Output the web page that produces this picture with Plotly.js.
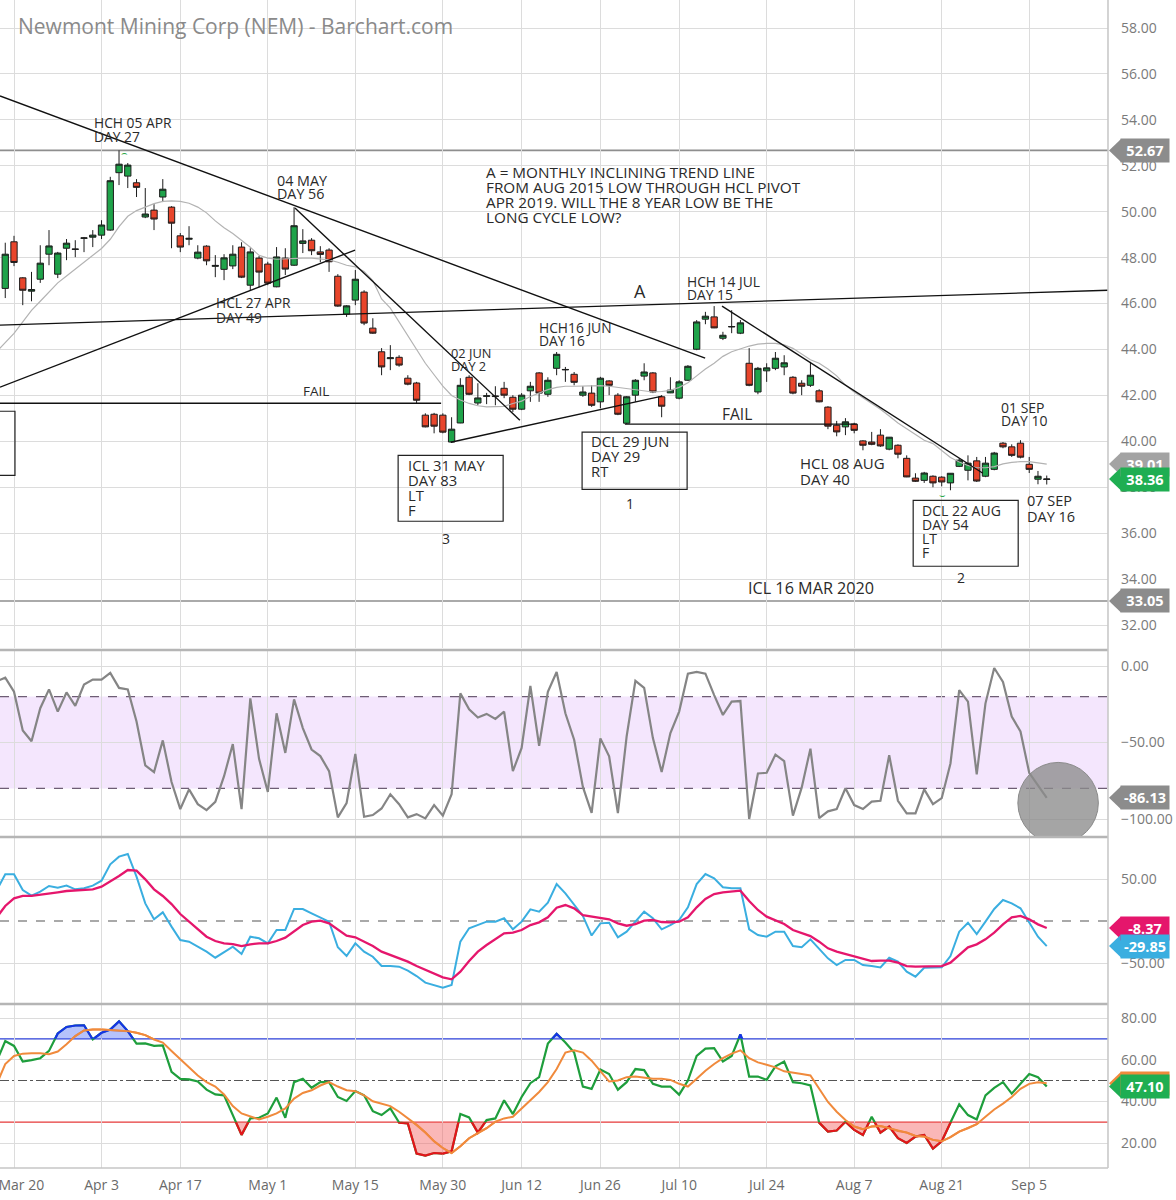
<!DOCTYPE html>
<html><head><meta charset="utf-8">
<script src="https://cdn.plot.ly/plotly-3.0.1.min.js"></script>
<style>html,body{margin:0;padding:0;background:#fff;}#chart{width:1176px;height:1200px;}</style>
</head><body><div id="chart"></div>
<script>
// ---------------- DATA ----------------
// first date (Mar 16) is only visible at the left edge through the indicator lines; its candle is off-screen
const dates = ['2023-03-16','2023-03-17','2023-03-20','2023-03-21','2023-03-22','2023-03-23','2023-03-24','2023-03-27','2023-03-28','2023-03-29','2023-03-30',
'2023-03-31','2023-04-03','2023-04-04','2023-04-05','2023-04-06','2023-04-10','2023-04-11','2023-04-12','2023-04-13','2023-04-14',
'2023-04-17','2023-04-18','2023-04-19','2023-04-20','2023-04-21','2023-04-24','2023-04-25','2023-04-26','2023-04-27','2023-04-28',
'2023-05-01','2023-05-02','2023-05-03','2023-05-04','2023-05-05','2023-05-08','2023-05-09','2023-05-10','2023-05-11','2023-05-12',
'2023-05-15','2023-05-16','2023-05-17','2023-05-18','2023-05-19','2023-05-22','2023-05-23','2023-05-24','2023-05-25','2023-05-26',
'2023-05-30','2023-05-31','2023-06-01','2023-06-02','2023-06-05','2023-06-06','2023-06-07','2023-06-08','2023-06-09','2023-06-12',
'2023-06-13','2023-06-14','2023-06-15','2023-06-16','2023-06-20','2023-06-21','2023-06-22','2023-06-23','2023-06-26','2023-06-27',
'2023-06-28','2023-06-29','2023-06-30','2023-07-03','2023-07-05','2023-07-06','2023-07-07','2023-07-10','2023-07-11','2023-07-12',
'2023-07-13','2023-07-14','2023-07-17','2023-07-18','2023-07-19','2023-07-20','2023-07-21','2023-07-24','2023-07-25','2023-07-26',
'2023-07-27','2023-07-28','2023-07-31','2023-08-01','2023-08-02','2023-08-03','2023-08-04','2023-08-07','2023-08-08','2023-08-09',
'2023-08-10','2023-08-11','2023-08-14','2023-08-15','2023-08-16','2023-08-17','2023-08-18','2023-08-21','2023-08-22','2023-08-23',
'2023-08-24','2023-08-25','2023-08-28','2023-08-29','2023-08-30','2023-08-31','2023-09-01','2023-09-05','2023-09-06','2023-09-07'];

const open = [null,46.66,48.69,47.12,46.54,47.06,48.15,47.28,48.41,48.38,48.84,
48.89,48.98,49.20,51.70,51.55,51.26,49.77,50.07,50.64,50.20,
48.95,48.80,47.98,48.50,47.62,47.49,47.64,48.46,46.80,47.98,
47.72,46.73,47.98,47.67,48.62,48.76,48.25,48.33,47.19,45.54,
46.15,46.50,44.93,43.90,43.60,43.66,42.75,42.54,41.14,41.18,
41.14,39.97,40.80,42.79,41.67,41.96,41.95,42.31,41.92,41.40,
42.20,42.98,42.05,43.18,43.11,42.92,42.01,42.10,41.72,42.63,
42.01,40.79,42.01,42.84,42.98,41.94,42.11,41.88,42.66,44.01,
45.32,45.42,44.49,44.98,44.71,43.40,42.15,43.07,43.18,43.24,
42.79,42.53,42.44,42.20,41.49,40.70,40.63,40.75,40.02,39.97,
40.27,39.66,39.83,39.26,38.40,38.30,38.48,38.44,38.19,38.91,
38.74,39.15,38.48,38.78,39.92,39.76,39.92,39.00,38.35,38.34];

const high = [null,48.65,48.95,47.15,47.38,48.54,49.20,48.25,48.81,48.76,48.90,
49.20,49.63,51.52,52.67,52.12,51.42,51.03,50.33,51.42,50.24,
49.07,49.37,48.54,48.54,48.11,48.15,48.54,48.67,48.41,48.07,
47.82,48.46,48.41,50.20,49.24,48.85,48.50,48.41,47.28,45.93,
47.46,46.58,45.36,44.06,44.19,43.75,42.88,42.59,41.22,41.24,
41.22,41.05,42.75,42.88,42.53,42.11,42.40,42.59,42.01,42.10,
42.59,43.02,42.79,43.89,43.24,43.02,42.40,42.44,42.81,42.66,
42.10,41.97,42.71,43.40,43.02,42.01,42.79,42.66,43.32,45.28,
45.64,45.89,44.77,45.71,45.28,44.06,43.24,43.40,43.89,43.75,
42.84,42.66,43.46,42.27,41.53,40.89,41.01,40.81,40.05,40.41,
40.53,40.19,39.87,39.39,38.61,38.67,38.52,38.48,38.62,39.26,
39.39,39.32,39.32,39.54,39.97,39.87,40.05,39.32,38.71,38.51];

const low = [null,46.24,47.63,45.93,46.10,46.90,47.67,47.11,47.89,48.02,48.24,
48.46,48.81,49.17,51.16,51.03,50.64,49.72,49.20,50.42,48.41,
48.24,48.54,47.93,47.67,47.15,47.02,47.50,47.11,46.58,46.71,
46.80,46.71,47.24,47.64,48.20,48.11,47.80,47.38,45.86,45.42,
45.93,45.06,44.68,42.88,43.10,43.25,42.44,41.66,40.61,40.35,
40.35,39.93,40.79,42.01,41.57,41.62,41.57,41.88,41.28,41.36,
41.72,41.72,41.94,42.88,42.59,42.44,41.94,41.50,41.44,42.01,
41.14,40.75,41.72,42.66,42.10,41.05,42.10,41.83,42.63,43.97,
45.10,44.93,44.41,44.71,44.67,42.40,42.05,42.59,43.10,42.88,
42.05,42.01,42.37,41.70,40.53,40.22,40.27,40.35,39.61,39.83,
39.76,39.61,39.26,38.44,38.23,38.19,38.00,38.04,37.87,38.88,
38.30,38.23,38.44,38.74,39.70,39.32,39.26,38.62,38.13,38.12];

const close = [null,48.15,47.79,46.58,46.61,47.76,48.51,48.20,48.63,48.36,48.86,
48.98,49.42,51.35,52.07,52.03,51.06,49.90,49.68,50.98,49.50,
48.46,48.84,48.24,47.86,47.66,47.99,48.15,47.15,48.25,47.37,
46.89,48.03,47.50,49.39,48.73,48.30,48.14,47.82,45.89,45.90,
47.06,45.15,44.71,43.24,43.64,43.32,42.49,41.79,40.63,40.66,
40.40,40.53,42.44,42.05,41.89,41.98,41.97,42.01,41.40,42.01,
42.40,42.10,42.66,43.79,43.13,42.57,42.15,41.57,42.75,42.44,
41.18,41.94,42.66,43.02,42.15,41.53,42.23,42.59,43.27,45.20,
45.45,44.94,44.62,45.00,45.16,42.44,43.18,43.20,43.62,43.42,
42.10,42.40,42.88,41.72,40.66,40.41,40.85,40.48,39.83,39.87,
39.80,40.18,39.44,38.45,38.26,38.62,38.19,38.23,38.61,39.18,
39.05,38.27,39.05,39.49,39.76,39.39,39.31,38.78,38.48,38.36];

const ma20 = [43.9,44.3,44.7,45.2,45.7,46.1,46.5,46.9,47.2,47.5,47.8,
48.1,48.4,48.8,49.35,49.8,50.05,50.2,50.35,50.45,50.47,
50.45,50.37,50.2,49.95,49.6,49.3,49.05,48.75,48.45,48.1,
47.98,47.93,47.95,47.98,47.98,47.98,47.95,47.9,47.8,47.67,
47.6,47.4,47.0,46.2,45.8,45.2,44.6,44.0,43.4,42.9,
42.4,42.0,41.8,41.65,41.55,41.5,41.5,41.52,41.65,41.75,
41.95,42.1,42.25,42.35,42.4,42.4,42.42,42.44,42.43,42.4,
42.35,42.28,42.22,42.18,42.15,42.17,42.22,42.35,42.55,42.85,
43.15,43.4,43.7,43.9,44.02,44.15,44.23,44.27,44.27,44.2,
44.05,43.8,43.55,43.4,43.15,42.85,42.45,42.15,41.9,41.68,
41.4,41.1,40.8,40.55,40.3,40.05,39.9,39.6,39.3,39.1,
38.95,38.85,38.85,38.9,39.02,39.08,39.12,39.12,39.06,39.01];

const willR = [-10.0,-7.6,-16.8,-42.1,-49.2,-27.6,-15.3,-29.8,-17.3,-26.1,-12.1,
-8.9,-8.9,-4.5,-14.3,-15.3,-36.3,-65.0,-69.3,-48.6,-75.8,
-93.5,-80.6,-90.3,-94.2,-88.8,-72.0,-51.0,-93.5,-21.2,-60.7,
-82.3,-30.9,-56.8,-21.8,-40.6,-54.6,-58.9,-68.7,-98.9,-89.6,
-57.5,-98.5,-97.4,-93.1,-83.8,-90.3,-98.9,-96.8,-99.6,-90.9,
-97.8,-83.8,-17.9,-28.3,-33.7,-31.3,-34.6,-29.8,-68.7,-53.6,
-13.0,-52.1,-16.8,-3.9,-30.9,-48.2,-79.0,-96.0,-47.3,-59.0,
-96.1,-46.0,-9.7,-14.3,-47.1,-69.3,-43.8,-29.8,-5.0,-3.9,
-5.0,-19.0,-32.0,-23.3,-22.9,-100,-70.2,-69.8,-57.9,-62.2,
-97.8,-79.5,-54.0,-99.4,-95.0,-93.5,-79.9,-90.9,-93.5,-88.6,
-88.1,-58.3,-88.1,-96.3,-96.3,-80.6,-90.3,-86.4,-63.7,-15.8,
-23.3,-70.8,-24.4,-1.3,-10.4,-33.0,-42.8,-69.8,-78.0,-86.13];

const cciFast = [36.0,55.6,55.6,36.9,30.2,34.9,41.7,39.7,42.1,37.7,38.9,
42.1,48.0,67.5,76.6,79.8,52.8,21.0,2.0,10.3,-6.7,
-22.6,-24.6,-30.6,-36.5,-43.7,-37.3,-30.6,-39.3,-18.7,-20.6,
-26.6,-10.7,-10.7,14.3,14.3,9.1,4.4,-0.8,-31.3,-41.7,
-26.6,-36.5,-42.5,-53.6,-53.6,-54.4,-59.1,-65.5,-73.4,-76.2,
-79.4,-76.2,-24.6,-8.7,-4.8,-0.8,-0.8,3.2,-9.9,-0.8,
13.9,11.1,21.8,44.0,32.9,19.0,6.0,-17.3,-2.8,-2.0,
-19.4,-12.7,-0.8,11.1,3.2,-9.9,-4.8,1.2,16.3,44.0,
55.9,50.8,40.1,38.9,38.9,-9.9,-16.7,-18.7,-12.7,-12.7,
-29.8,-31.3,-21.8,-33.7,-44.4,-52.4,-46.4,-46.4,-52.4,-53.6,
-55.2,-43.7,-48.4,-60.3,-66.3,-55.6,-55.2,-55.2,-41.7,-12.7,
-2.0,-15.5,-0.8,14.3,25.0,21.0,15.1,-2.0,-18.7,-29.85];

const cciSlow = [4.0,17.9,27.0,29.8,29.8,31.0,32.9,34.1,35.7,36.5,36.9,
37.7,40.9,46.8,53.6,60.7,59.9,49.6,37.7,29.8,20.2,
8.3,-0.8,-9.9,-18.7,-23.8,-26.6,-27.4,-29.8,-27.8,-26.6,
-26.6,-23.8,-19.8,-12.7,-4.8,-0.8,0.4,-2.8,-10.7,-17.5,
-19.4,-24.6,-29.8,-36.5,-40.5,-43.7,-48.4,-53.6,-58.3,-63.1,
-67.1,-69.4,-60.3,-47.6,-36.5,-28.6,-21.8,-14.7,-13.9,-10.7,
-4.8,-1.6,4.4,15.9,19.0,15.1,7.1,5.5,3.5,2.0,
-2.8,-5.6,-3.6,0.4,1.2,-1.2,-1.6,-0.8,4.4,16.3,
26.2,32.1,34.1,34.9,36.1,23.8,13.1,5.2,1.2,-3.6,
-10.7,-14.7,-17.9,-24.6,-32.5,-36.5,-39.3,-42.5,-45.6,-47.6,
-47.2,-47.2,-49.6,-53.6,-54.4,-54.4,-54.4,-53.6,-49.6,-40.5,
-31.3,-27.8,-21.8,-13.9,-4.0,4.4,6.0,2.0,-4.0,-8.37];

const rsi = [59.0,68.9,66.6,59.1,59.8,60.7,64.2,72.6,75.7,76.4,76.5,
69.7,72.9,74.5,78.4,73.7,67.7,67.8,66.6,66.9,54.2,
50.8,50.5,49.5,45.6,43.3,42.9,33.4,23.9,31.8,32.1,
34.2,41.8,32.1,49.2,50.8,46.5,49.2,49.2,42.1,40.2,
44.9,42.9,35.3,33.4,36.6,29.8,29.4,14.9,14.0,15.2,
14.9,16.0,33.9,32.3,25.0,31.0,31.8,40.5,33.9,42.1,
48.7,51.6,67.7,72.4,68.2,63.4,47.1,46.0,55.3,53.1,
45.6,49.2,55.5,55.0,48.4,47.1,47.1,43.2,50.0,61.8,
65.3,65.5,59.1,61.8,72.1,51.9,51.9,50.3,56.8,59.1,
49.2,48.7,47.6,29.8,25.5,26.0,30.2,26.3,23.9,32.6,
25.0,27.9,22.3,20.0,23.1,23.9,17.3,20.8,29.8,38.6,
33.4,31.3,42.9,46.5,49.2,43.7,48.4,53.1,51.6,47.10];

const rsiSignal = [48.0,57.9,61.8,62.9,63.1,63.1,62.6,63.9,67.4,71.3,74.0,
74.5,74.5,74.2,74.0,73.7,72.9,71.8,69.7,68.2,64.2,
60.3,56.3,52.4,49.2,47.1,43.3,37.7,34.2,32.6,31.3,
32.6,34.2,36.6,41.3,44.0,45.3,47.6,49.2,47.1,45.3,
44.9,42.9,40.0,38.9,37.7,35.0,31.8,28.7,25.0,20.8,
17.6,15.2,18.4,22.3,24.7,27.1,30.2,31.8,32.6,36.6,
40.5,44.5,49.2,55.5,63.4,64.5,63.4,59.5,54.5,49.5,
50.0,51.6,51.9,51.2,50.8,50.8,50.3,48.4,47.1,50.8,
54.7,57.9,60.7,62.9,64.5,60.7,58.7,57.6,56.3,54.4,
53.9,53.1,52.4,46.0,39.7,35.0,31.0,27.9,26.6,27.9,
28.2,27.1,25.8,25.0,23.4,23.1,21.5,20.8,22.8,25.5,
27.1,29.0,32.6,36.1,38.9,42.1,46.0,48.4,49.2,48.7];

const tickDates = ['2023-03-20','2023-04-03','2023-04-17','2023-05-01','2023-05-15','2023-05-30','2023-06-12','2023-06-26','2023-07-10','2023-07-24','2023-08-07','2023-08-21','2023-09-05'];
const tickText = ['Mar 20','Apr 3','Apr 17','May 1','May 15','May 30','Jun 12','Jun 26','Jul 10','Jul 24','Aug 7','Aug 21','Sep 5'];

const highLevel = 52.67;   // HCH level
const lowLevel = 33.05;    // ICL 16 MAR 2020 level
const wrBand = [-80, -20];
const rsiOver = 70, rsiUnder = 30, rsiMid = 50;

// trend lines drawn on the price chart: [bars after 17 Mar, price, bars after 17 Mar, price]
const trendLines = [
  [-0.6, 55.04, 79.97, 43.62],
  [33.1, 50.16, 58.8, 40.92],
  [-0.6, 42.36, 39.97, 48.33],
  [-0.6, 45.06, 126, 46.58],
  [-0.6, 41.66, 49.8, 41.66],
  [50.9, 39.96, 75.06, 41.97],
  [70.8, 40.75, 97.3, 40.75],
  [81.9, 45.89, 111.7, 38.61]
];
const noteBoxes = [
  [-5, 41.31, 1.11, 38.52],
  [44.89, 39.39, 56.89, 36.52],
  [65.91, 40.40, 77.91, 37.91],
  [103.74, 37.43, 115.74, 34.56]
];

// ---------------- LAYOUT ----------------
const FONT = '"Open Sans", "Noto Sans", sans-serif';
const W = 1108, H = 1168;
const px2p = x => x / W;
const py2p = y => 1 - y / H;
const base = dates.indexOf('2023-03-17');   // bar offset for drawings

const domMain = [py2p(648), 1];
const dom2 = [py2p(836), py2p(651)];
const dom3 = [py2p(1003), py2p(838)];
const dom4 = [0, py2p(1005)];
const range4 = [8.0, 86.24];
const f4 = v => dom4[1] * (v - range4[0]) / (range4[1] - range4[0]);

// first label is kept inside the plot edge, as on the original
const tickShown = tickText.map((t, i) => i === 0 ? '\u00A0\u00A0\u00A0\u00A0' + t : t);

const GRID = '#dcdcdc';
const yBase = {side:'right', showgrid:true, gridcolor:GRID, gridwidth:1, zeroline:false, showline:false, ticks:'',
  tickformat:'.2f', tickfont:{family:FONT, size:14, color:'#7a7a7a'}, ticklabelstandoff:12, fixedrange:true, anchor:'x'};

const traces = [];
traces.push({type:'candlestick', x:dates, open, high, low, close, xaxis:'x', yaxis:'y', whiskerwidth:0,
  increasing:{line:{color:'#1c1c1c', width:1}, fillcolor:'#1fa34a'},
  decreasing:{line:{color:'#1c1c1c', width:1}, fillcolor:'#e8452b'}, hoverinfo:'skip', showlegend:false});
traces.push({type:'scatter', mode:'lines', x:dates, y:ma20, xaxis:'x', yaxis:'y', line:{color:'#b3b3b3', width:1.2}, hoverinfo:'skip'});
traces.push({type:'scatter', mode:'lines', x:dates, y:willR, xaxis:'x', yaxis:'y2', line:{color:'#858585', width:2.2}, hoverinfo:'skip'});
traces.push({type:'scatter', mode:'lines', x:dates, y:cciFast, xaxis:'x', yaxis:'y3', line:{color:'#3aaee0', width:2}, hoverinfo:'skip'});
traces.push({type:'scatter', mode:'lines', x:dates, y:cciSlow, xaxis:'x', yaxis:'y3', line:{color:'#e5166c', width:2.3}, hoverinfo:'skip'});
traces.push({type:'scatter', mode:'lines', x:dates, y:rsi, xaxis:'x', yaxis:'y4', line:{color:'#1e9e3c', width:2.2}, hoverinfo:'skip'});
traces.push({type:'scatter', mode:'lines', x:dates, y:rsiSignal, xaxis:'x', yaxis:'y4', line:{color:'#f08a3c', width:2}, hoverinfo:'skip'});
// overbought part (subplot clipped above 70)
traces.push({type:'scatter', mode:'lines', x:dates, y:rsi, xaxis:'x', yaxis:'y5', fill:'tozeroy', fillcolor:'rgba(80,110,245,0.42)', line:{color:'#1534e6', width:2.2}, hoverinfo:'skip'});
traces.push({type:'scatter', mode:'lines', x:dates, y:rsiSignal, xaxis:'x', yaxis:'y5', line:{color:'#f08a3c', width:2}, hoverinfo:'skip'});
// oversold part (subplot clipped below 30)
traces.push({type:'scatter', mode:'lines', x:[dates[0], dates[dates.length-1]], y:[rsiUnder, rsiUnder], xaxis:'x', yaxis:'y6', line:{width:0, color:'rgba(0,0,0,0)'}, hoverinfo:'skip'});
traces.push({type:'scatter', mode:'lines', x:dates, y:rsi, xaxis:'x', yaxis:'y6', fill:'tonexty', fillcolor:'rgba(243,95,95,0.45)', line:{color:'#e3151a', width:2.2}, hoverinfo:'skip'});
traces.push({type:'scatter', mode:'lines', x:dates, y:rsiSignal, xaxis:'x', yaxis:'y6', line:{color:'#f08a3c', width:2}, hoverinfo:'skip'});

const shapes = [];
const annotations = [];

// W%R band
shapes.push({type:'rect', xref:'paper', yref:'y2', x0:0, x1:1, y0:wrBand[0], y1:wrBand[1], fillcolor:'#f4e6fd', line:{width:0}, layer:'below'});
wrBand.forEach(v => shapes.push({type:'line', xref:'paper', yref:'y2', x0:0, x1:1, y0:v, y1:v, line:{color:'#6e5d75', width:1.2, dash:'dash'}, layer:'below'}));
shapes.push({type:'line', xref:'paper', yref:'y3', x0:0, x1:1, y0:0, y1:0, line:{color:'#555', width:1.2, dash:'dash'}, layer:'below'});
shapes.push({type:'line', xref:'paper', yref:'y4', x0:0, x1:1, y0:rsiOver, y1:rsiOver, line:{color:'#2b3fd8', width:1.3}, layer:'below'});
shapes.push({type:'line', xref:'paper', yref:'y4', x0:0, x1:1, y0:rsiUnder, y1:rsiUnder, line:{color:'#e63a3a', width:1.3}, layer:'below'});
shapes.push({type:'line', xref:'paper', yref:'y4', x0:0, x1:1, y0:rsiMid, y1:rsiMid, line:{color:'#555', width:1.2, dash:'dashdot'}, layer:'below'});

// price levels
[highLevel, lowLevel].forEach(v => shapes.push({type:'line', xref:'paper', yref:'y', x0:0, x1:1, y0:v, y1:v, line:{color:'#8e8e8e', width:1.6}, layer:'below'}));
// trend lines
trendLines.forEach(t => shapes.push({type:'line', xref:'x', yref:'y', x0:t[0]+base, y0:t[1], x1:t[2]+base, y1:t[3], line:{color:'#111', width:1.4}}));
noteBoxes.forEach(b => shapes.push({type:'rect', xref:'x', yref:'y', x0:b[0]+base, y0:b[1], x1:b[2]+base, y1:b[3], line:{color:'#222', width:1.2}, fillcolor:'rgba(0,0,0,0)'}));

// circle on W%R
shapes.push({type:'circle', xref:'x', yref:'y2', x0:115.7+base, x1:124.9+base, y0:-116, y1:-63, fillcolor:'rgba(140,140,140,0.78)', line:{color:'#8a8a8a', width:1}});

// separators & frame
[650, 837, 1004].forEach(py => shapes.push({type:'line', xref:'paper', yref:'paper', x0:0, x1:1, y0:py2p(py), y1:py2p(py), line:{color:'#b5b5b5', width:2.6}}));
shapes.push({type:'line', xref:'paper', yref:'paper', x0:0, x1:1, y0:0, y1:0, line:{color:'#c6c6c6', width:1.5}});
shapes.push({type:'line', xref:'paper', yref:'paper', x0:1, x1:1, y0:0, y1:1, line:{color:'#c9c9c9', width:1.6}});

// text labels: [text, left px, center py, size]
const labels = [
 ['HCH 05 APR',94,122,13.8],['DAY 27',94,136,13.8],
 ['04 MAY',277,180,14.3],['DAY 56',277,194,14.3],
 ['HCL 27 APR',216,303,13.8],['DAY 49',216,317,13.8],
 ['A = MONTHLY INCLINING TREND LINE',486,172,15.3],['FROM AUG 2015 LOW THROUGH HCL PIVOT',486,187,15.3],
 ['APR 2019. WILL THE 8 YEAR LOW BE THE',486,202,15.3],['LONG CYCLE LOW?',486,217,15.3],
 ['A',634,291,18],
 ['HCH 14 JUL',687,281,13.8],['DAY 15',687,295,13.8],
 ['HCH16 JUN',539,327,13.8],['DAY 16',539,341,13.8],
 ['02 JUN',451,353,12.8],['DAY 2',451,366,12.8],
 ['FAIL',303,391,13.5],['FAIL',722,414,15.5],
 ['ICL 31 MAY',408,465,14.8],['DAY 83',408,480,14.8],['LT',408,495,14.8],['F',408,510,14.8],
 ['3',442,538,14],
 ['DCL 29 JUN',591,441,14.8],['DAY 29',591,456,14.8],['RT',591,471,14.8],
 ['1',626,504,14],
 ['HCL 08 AUG',800,463,15],['DAY 40',800,479,15],
 ['01 SEP',1001,407,14],['DAY 10',1001,421,14],
 ['07 SEP',1027,500,14.5],['DAY 16',1027,516,14.5],
 ['DCL 22 AUG',922,510,14],['DAY 54',922,524,14],['LT',922,538,14],['F',922,552,14],
 ['2',957,578,14],
 ['ICL 16 MAR 2020',748,588,16.2]
];
labels.forEach(l => annotations.push({xref:'paper', yref:'paper', x:px2p(l[1]-2), y:py2p(l[2]), xanchor:'left', yanchor:'middle',
  text:l[0], showarrow:false, font:{family:FONT, size:l[3], color:'#2a2a2a'}}));
// tiny pivot marks
annotations.push({xref:'paper', yref:'paper', x:px2p(119), y:py2p(145), text:'\u2322', showarrow:false, font:{family:'DejaVu Sans', size:10, color:'#2aa84a'}});
annotations.push({xref:'paper', yref:'paper', x:px2p(948), y:py2p(496), text:'\u2323', showarrow:false, font:{family:'DejaVu Sans', size:10, color:'#2aa84a'}});

// value tags on the right
function addTag(yref, value, color) {
  shapes.push({type:'path', xref:'paper', xsizemode:'pixel', xanchor:1, yref:yref, ysizemode:'pixel', yanchor:value,
    path:'M 1 0 L 13 11.5 L 13 -11.5 Z', fillcolor:color, line:{width:0}});
  annotations.push({xref:'paper', x:1 + 12/W, xanchor:'left', yref:yref, y:value, yanchor:'middle',
    text:'<b>' + value.toFixed(2) + '</b>', bgcolor:color, width:44, height:19, borderpad:2, showarrow:false,
    font:{family:FONT, size:14.5, color:'#ffffff'}});
}
addTag('y', highLevel, '#8c8c8c');
addTag('y', lowLevel, '#8c8c8c');
addTag('y', ma20[ma20.length-1], '#a3a3a3');
addTag('y', close[close.length-1], '#1fae52');
addTag('y2', willR[willR.length-1], '#8c8c8c');
addTag('y3', cciSlow[cciSlow.length-1], '#e5166c');
addTag('y3', cciFast[cciFast.length-1], '#3aaee0');
addTag('y4', rsiSignal[rsiSignal.length-1], '#f08a3c');
addTag('y4', rsi[rsi.length-1], '#1fae52');

const layout = {
  width:1176, height:1200,
  margin:{l:0, r:68, t:0, b:32, pad:0},
  paper_bgcolor:'#ffffff', plot_bgcolor:'rgba(0,0,0,0)',
  showlegend:false, hovermode:false, dragmode:false,
  boxgap:0.28, boxgroupgap:0,
  font:{family:FONT},
  title:{text:'Newmont Mining Corp (NEM) - Barchart.com', x:18/1176, xanchor:'left', xref:'container',
    y:1-27/1200, yanchor:'middle', yref:'container', font:{family:FONT, size:21, color:'#8a8a8a'}},
  xaxis:{type:'category', range:[-0.6+base, 126+base], anchor:'y4', tickmode:'array', tickvals:tickDates, ticktext:tickShown,
    showgrid:true, gridcolor:GRID, gridwidth:1, zeroline:false, showline:false, ticks:'',
    tickfont:{family:FONT, size:14, color:'#6a6a6a'}, ticklabelstandoff:7, rangeslider:{visible:false}, fixedrange:true},
  yaxis:Object.assign({}, yBase, {domain:domMain, range:[31.0, 59.22], tickmode:'linear', tick0:0, dtick:2}),
  yaxis2:Object.assign({}, yBase, {domain:dom2, range:[-111.1, 9.8], tickmode:'array', tickvals:[0,-50,-100]}),
  yaxis3:Object.assign({}, yBase, {domain:dom3, range:[-97.6, 98.8], tickmode:'array', tickvals:[50,-50]}),
  yaxis4:Object.assign({}, yBase, {domain:dom4, range:range4, tickmode:'array', tickvals:[20,40,60,80]}),
  yaxis5:{domain:[f4(rsiOver), dom4[1]], range:[rsiOver, range4[1]], anchor:'x', showgrid:false, showticklabels:false, zeroline:false, fixedrange:true},
  yaxis6:{domain:[0, f4(rsiUnder)], range:[range4[0], rsiUnder], anchor:'x', showgrid:false, showticklabels:false, zeroline:false, fixedrange:true},
  shapes, annotations
};

Plotly.newPlot('chart', traces, layout, {displayModeBar:false, staticPlot:true});
</script>
</body></html>
